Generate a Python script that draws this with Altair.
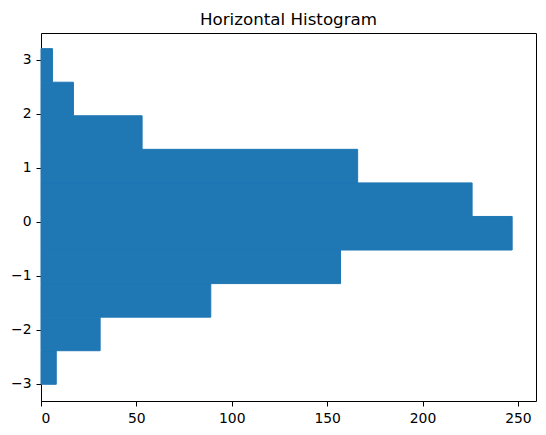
import altair as alt
import pandas as pd

bin_lo = [-3.01, -2.388, -1.766, -1.144, -0.522, 0.10, 0.722, 1.344, 1.966, 2.588]
bin_hi = [-2.388, -1.766, -1.144, -0.522, 0.10, 0.722, 1.344, 1.966, 2.588, 3.21]
counts = [8, 31, 89, 157, 247, 226, 166, 53, 17, 6]

df = pd.DataFrame({"lo": bin_lo, "hi": bin_hi, "count": counts})

font = "DejaVu Sans"

chart = alt.Chart(df).mark_rect(color="#1f77b4", stroke="#1f77b4", strokeWidth=1).encode(
    x=alt.X("count:Q", scale=alt.Scale(domain=[0, 259.5], nice=False, zero=True),
            axis=alt.Axis(values=[0, 50, 100, 150, 200, 250], title=None, grid=False,
                          domain=False, tickColor="black", tickSize=5, labelPadding=5,
                          labelFont=font, labelFontSize=13.9, labelColor="black")),
    x2=alt.X2(datum=0),
    y=alt.Y("lo:Q", scale=alt.Scale(domain=[-3.32, 3.50], nice=False, zero=False),
            axis=alt.Axis(values=[-3, -2, -1, 0, 1, 2, 3], title=None, grid=False,
                          domain=False, tickColor="black", tickSize=5, labelPadding=5,
                          labelFont=font, labelFontSize=13.9, labelColor="black")),
    y2="hi:Q",
).properties(
    width=495,
    height=368,
    title=alt.TitleParams("Horizontal Histogram", font=font, fontSize=16.7,
                          fontWeight="normal", color="black", anchor="middle", offset=4),
    autosize=alt.AutoSizeParams(type="none"),
    padding={"left": 33, "top": 25, "right": 2, "bottom": 26},
).configure_view(stroke="black", strokeWidth=1)

chart.save("out.html", embed_options={"renderer": "svg", "actions": False})
